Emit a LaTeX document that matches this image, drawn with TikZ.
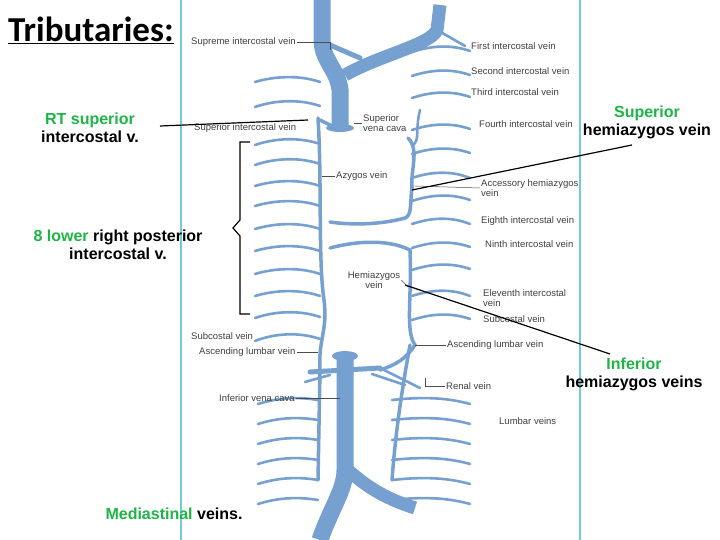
\documentclass[tikz,border=0pt]{standalone}
\usepackage{fontspec}
\setmainfont{Liberation Sans}
\newfontfamily\carl{Carlito}
\begin{document}
\begin{tikzpicture}[x=1pt,y=-1pt,
  vein/.style={draw=vb,line width=3.5pt,line cap=round},
  thin/.style={draw=vb,line width=2.6pt,line cap=round},
  big/.style={draw=vb,line width=17pt},
  lab/.style={font=\fontsize{9.5}{10}\selectfont,text=black!75,inner sep=1pt},
  ann/.style={font=\bfseries\fontsize{16}{18}\selectfont,align=center,inner sep=1pt},
  ptr/.style={draw=black!70,line width=0.5pt},
  call/.style={draw=black,line width=1.2pt}]
\definecolor{vb}{RGB}{118,160,208}
\definecolor{tl}{RGB}{110,205,215}
\definecolor{gr}{RGB}{30,180,70}
\useasboundingbox (0,0) rectangle (720,540);
\fill[white] (0,0) rectangle (720,540);
\draw[tl,line width=1.2pt] (181,0)--(181,540) (580,0)--(580,540);
% title
\node[anchor=west,font=\carl\bfseries\fontsize{35}{37}\selectfont,inner sep=0] (title) at (8,30) {\underline{Tributaries:}};
% SVC and brachiocephalics
\draw[big] (322,0)--(322,40) .. controls (322,60) and (338,70) .. (340,90)--(340,128);
\draw[big,line width=13pt] (440,5)--(437,30) .. controls (430,45) and (380,55) .. (345,75);
\draw[thin] (437,30)--(465,46);
\draw[vein,line width=5pt] (330,45)--(360,58);
\fill[vb] (340,128) ellipse (14 and 4);
% azygos
\draw[vein] (320,120) .. controls (330,125) and (335,128) .. (338,126);
\draw[vein] (318,118) .. controls (322,180) and (318,260) .. (324,300) .. controls (328,330) and (318,340) .. (320,370);
% hemiazygos
\draw[vein] (412,185) .. controls (410,205) and (412,215) .. (405,218) .. controls (380,225) and (350,225) .. (330,222);
\draw[vein] (408,138) .. controls (420,150) and (410,170) .. (412,190);
\draw[vein] (330,248) .. controls (360,240) and (390,240) .. (410,250) .. controls (412,300) and (405,330) .. (415,345) .. controls (405,360) and (395,365) .. (380,370);
% right intercostals
\foreach \y/\d in {78/4,102/5,140/5,160/5,182/4,202/4,225/4,247/4,270/4,292/4,313/5,335/6}{
  \draw[thin] (255,\y+\d) .. controls (275,\y-2) and (300,\y-3) .. (320,\y+4);}
% left intercostals
\foreach \y/\d in {46/5,70/5,92/5,124/5,148/5,172/6,195/5,218/6,242/5,264/5,290/6,314/5}{
  \draw[thin] (412,\y+6) .. controls (430,\y) and (450,\y-2) .. (470,\y+\d);}
\draw[thin] (420,110) .. controls (415,130) and (420,140) .. (413,145);
% IVC
\draw[big] (345,358)--(345,470) .. controls (345,490) and (330,510) .. (320,540);
\draw[big,line width=13pt] (348,470) .. controls (370,490) and (390,500) .. (415,508);
\fill[vb] (345,356) ellipse (13 and 5);
\draw[vein,line width=5pt] (310,372)--(380,368);
\draw[thin] (305,382)--(330,375) (372,374)--(405,385) (380,368)--(420,388);
\draw[vein] (320,370)--(318,480);
\draw[vein] (410,345) .. controls (400,400) and (395,440) .. (392,480);
\foreach \y in {400,420,440,460,480,500}{
  \draw[thin] (258,\y+4) .. controls (280,\y-3) and (300,\y-3) .. (318,\y);
  \draw[thin] (392,\y) .. controls (420,\y-3) and (445,\y-3) .. (470,\y+4);}
% labels
\node[lab,anchor=west] (l1) at (190,42) {Supreme intercostal vein};
\draw[ptr] (l1.east)--(330,42)--(330,50);
\node[lab,anchor=west] (l2) at (470,46) {First intercostal vein};
\node[lab,anchor=west] (l3) at (470,71) {Second intercostal vein};
\node[lab,anchor=west] (l4) at (470,92) {Third intercostal vein};
\node[lab,anchor=west] (l5) at (478,124) {Fourth intercostal vein};
\node[lab,anchor=west,align=left] (l6) at (362,123) {Superior\\vena cava};
\draw[ptr] (l6.west)--(354,123);
\node[lab,anchor=west] (l7) at (193,128) {Superior intercostal vein};
\node[lab,anchor=west] (l8) at (335,176) {Azygos vein};
\draw[ptr] (l8.west)--(322,176);
\node[lab,anchor=west,align=left] (l9) at (480,188) {Accessory hemiazygos\\vein};
\draw[ptr] (l9.west)--(415,186);
\node[lab,anchor=west] (l10) at (480,221) {Eighth intercostal vein};
\node[lab,anchor=west] (l11) at (484,244) {Ninth intercostal vein};
\node[lab,align=center] (l12) at (374,280) {Hemiazygos\\vein};
\draw[ptr] (l12.east)--(408,287);
\node[lab,anchor=west,align=left] (l13) at (482,298) {Eleventh intercostal\\vein};
\node[lab,anchor=west] (l14) at (482,319) {Subcostal vein};
\node[lab,anchor=west] (l15) at (190,336) {Subcostal vein};
\node[lab,anchor=west] (l16) at (198,352) {Ascending lumbar vein};
\draw[ptr] (l16.east)--(318,352);
\node[lab,anchor=west] (l17) at (446,345) {Ascending lumbar vein};
\draw[ptr] (l17.west)--(415,345);
\node[lab,anchor=west] (l18) at (445,386) {Renal vein};
\draw[ptr] (l18.west)--(425,386)--(425,378);
\node[lab,anchor=west] (l19) at (218,398) {Inferior vena cava};
\draw[ptr] (l19.east)--(340,398);
\node[lab,anchor=west] (l20) at (498,421) {Lumbar veins};
% annotations
\node[ann] (a1) at (90,128) {\textcolor{gr}{RT superior}\\intercostal v.};
\draw[call] (160,126)--(308,120);
\node[ann] (a2) at (647,122) {\textcolor{gr}{Superior}\\hemiazygos vein};
\draw[call] (632,145)--(412,190);
\node[ann] (a3) at (118,245) {\textcolor{gr}{8 lower} right posterior\\intercostal v.};
\draw[line width=1.2pt] (250,142) -- (240,142) -- (240,220) -- (233,228) -- (240,236) -- (240,314) -- (250,314);
\node[ann] (a4) at (634,374) {\textcolor{gr}{Inferior}\\hemiazygos veins};
\draw[call] (610,354)--(405,285);
\node[ann] (a5) at (174,514) {\textcolor{gr}{Mediastinal} veins.};
\end{tikzpicture}
\end{document}
